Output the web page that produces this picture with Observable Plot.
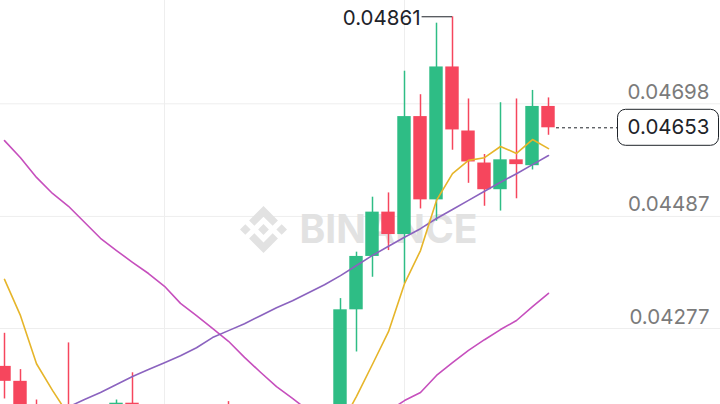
<!DOCTYPE html>
<html><head><meta charset="utf-8">
<script src="https://cdn.jsdelivr.net/npm/d3@7"></script>
<script src="https://cdn.jsdelivr.net/npm/@observablehq/plot@0.6"></script>
<style>html,body{margin:0;padding:0;background:#fff;overflow:hidden}#chart svg{display:block}</style>
</head><body><div id="chart"></div>
<script>
// candle index (position in the window) and OHLC prices
const candleIdx = [0,1,2,4,7,8,14,21,22,23,24,25,26,27,28,29,30,31,32,33,34];
const opens  = [0.04206,0.04178,0.04120,0.04128,0.04120,0.04137,0.04128,0.04120,0.04312,0.04412,0.04495,0.04453,0.04674,0.04518,0.04767,0.04647,0.04587,0.04537,0.04593,0.04582,0.04693];
const highs  = [0.04268,0.04200,0.04143,0.04250,0.04143,0.04194,0.04140,0.04333,0.04420,0.04523,0.04531,0.04759,0.04715,0.04849,0.04861,0.04707,0.04603,0.04700,0.04707,0.04723,0.04709];
const lows   = [0.04145,0.04100,0.04090,0.04095,0.04110,0.04105,0.04100,0.04110,0.04233,0.04373,0.04423,0.04361,0.04501,0.04478,0.04611,0.04549,0.04506,0.04497,0.04520,0.04574,0.04639];
const closes = [0.04178,0.04120,0.04105,0.04110,0.04137,0.04120,0.04115,0.04312,0.04412,0.04495,0.04453,0.04674,0.04518,0.04767,0.04649,0.04589,0.04537,0.04593,0.04584,0.04693,0.04653];

// moving averages, one value per slot 0..34 (null = off the visible range)
const ma7 = [0.04369,0.04301,0.04211,0.04161,0.04115,
  null,null,null,null,null,null,null,null,null,null,null,null,null,null,null,null,
  0.04094,0.04150,0.04210,0.04271,0.04361,0.04423,0.04517,0.04567,0.04592,0.04597,0.04618,0.04605,0.04631,0.04614];
const ma25 = [null,null,null,null,0.04130,0.04144,0.04157,0.04172,0.04187,0.04200,0.04213,0.04226,0.04241,0.04260,0.04273,
  0.04286,0.04301,0.04316,0.04329,0.04344,0.04359,0.04376,0.04395,0.04414,0.04431,0.04448,0.04464,0.04483,0.04500,
  0.04517,0.04534,0.04551,0.04567,0.04584,0.04601];
const ma99 = [0.04629,0.04597,0.04560,0.04530,0.04506,0.04476,0.04446,0.04423,0.04401,0.04380,0.04356,0.04324,0.04301,
  0.04277,0.04253,0.04223,0.04195,0.04168,0.04146,0.04123,null,null,null,null,
  0.04122,0.04142,0.04157,0.04189,0.04213,0.04236,0.04256,0.04275,0.04292,0.04318,0.04343];

const priceTicks = [0.04277, 0.04487, 0.04698];
const timeGrid = [10, 25];
const lastPrice = 0.04653;
const maxHigh = 0.04861;
const maxIdx = 28;

const UP = "#2EBD85", DOWN = "#F6465D";
const candles = candleIdx.map((i, k) => ({i, open: opens[k], high: highs[k], low: lows[k], close: closes[k]}));
const slots = d3.range(35);
const col = d => d.close >= d.open ? UP : DOWN;
const FONT = "Inter, 'Noto Sans', sans-serif";

const watermark = (index, scales, values, dims) => {
  const g = document.createElementNS("http://www.w3.org/2000/svg", "g");
  const cx = dims.width / 2 - 96.5, cy = dims.height / 2 + 27.5;
  const s = 47 / 126.61;
  g.setAttribute("transform", `translate(${cx - 63.3 * s},${cy - 63.3 * s}) scale(${s})`);
  g.innerHTML = `<path fill="#e2e2e2" d="M38.73 53.2l24.59-24.58 24.6 24.6 14.3-14.31L63.32 0 24.43 38.9l14.3 14.3zM0 63.31l14.3-14.31 14.31 14.31-14.31 14.3zM38.73 73.41l24.59 24.59 24.6-24.6 14.31 14.29-38.9 38.91-38.91-38.88-.02-.02 14.33-14.29zM98.01 63.31l14.3-14.31 14.31 14.3-14.31 14.31zM77.83 63.3L63.32 48.78 52.59 59.51l-1.24 1.23-2.54 2.54-.02.02.02.03 14.51 14.5 14.51-14.52.01-.01-.01-.01z"/>`;
  return g;
};

const priceBox = (index, scales, values, dims) => {
  const g = document.createElementNS("http://www.w3.org/2000/svg", "g");
  const y = scales.y(lastPrice);
  const w = 101, h = 36;
  g.innerHTML = `<rect x="${dims.width - w - 1.5}" y="${y - h / 2}" width="${w}" height="${h}" rx="8" ry="8" fill="#fff" stroke="#1e2329" stroke-width="1"/>`;
  return g;
};

const plot = Plot.plot({
  width: 720, height: 404,
  margin: 0,
  x: {type: "linear", domain: [-0.25, 44.75], axis: null},
  y: {type: "linear", domain: [0.041346, 0.048915], axis: null},
  style: {background: "#fff", fontFamily: FONT},
  marks: [
    Plot.ruleY(priceTicks, {stroke: "#eeeeee", strokeWidth: 1}),
    Plot.ruleX(timeGrid, {stroke: "#eeeeee", strokeWidth: 1}),
    watermark,
    Plot.text(["BINANCE"], {frameAnchor: "middle", dx: 28, dy: 28, text: d => d, fill: "#e2e2e2", fontSize: 39, fontWeight: 700, fontFamily: FONT}),
    Plot.ruleX(candles, {x: "i", y1: "low", y2: "high", stroke: col, strokeWidth: 1.5, clip: true}),
    Plot.rect(candles, {x1: d => d.i - 0.42, x2: d => d.i + 0.42, y1: "open", y2: "close", fill: col, clip: true}),
    Plot.line(slots, {x: i => i, y: i => ma99[i], stroke: "#C64FBD", strokeWidth: 1.6, clip: true}),
    Plot.line(slots, {x: i => i, y: i => ma25[i], stroke: "#8B63BF", strokeWidth: 1.6, clip: true}),
    Plot.line(slots, {x: i => i, y: i => ma7[i], stroke: "#E6B52A", strokeWidth: 1.6, clip: true}),
    Plot.text(priceTicks, {y: d => d, frameAnchor: "right", dx: -11, dy: -11.5, textAnchor: "end", text: d => d.toFixed(5), fill: "#7b7b7b", fontSize: 20.5, fontFamily: FONT}),
    Plot.ruleY([maxHigh], {x1: maxIdx - 1.9, x2: maxIdx, stroke: "#1e2329", strokeWidth: 1}),
    Plot.text([maxHigh], {x: maxIdx, y: d => d, dx: -32, dy: 1.5, textAnchor: "end", text: d => d.toFixed(5), fill: "#1e2329", fontSize: 20.5, fontFamily: FONT}),
    Plot.ruleY([lastPrice], {x1: 34.5, x2: 38.375, stroke: "#1e2329", strokeWidth: 1, strokeDasharray: "3,3"}),
    priceBox,
    Plot.text([lastPrice], {y: d => d, frameAnchor: "right", dx: -52, textAnchor: "middle", text: d => d.toFixed(5), fill: "#1e2329", fontSize: 20.5, fontFamily: FONT})
  ]
});
document.getElementById("chart").appendChild(plot);
</script></body></html>
